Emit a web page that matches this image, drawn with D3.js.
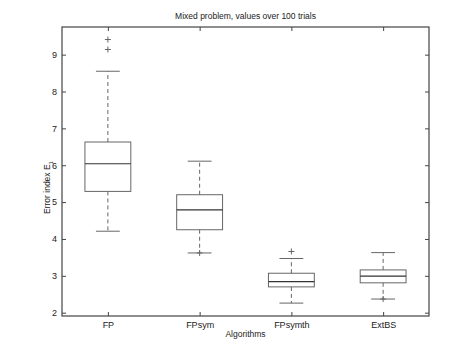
<!DOCTYPE html>
<html><head><meta charset="utf-8">
<script src="https://cdn.jsdelivr.net/npm/d3@7"></script>
<style>body{margin:0;background:#fff;} text{font-family:"Liberation Sans",Arial,sans-serif;fill:#222;}</style>
</head><body><svg id="c" width="474" height="346"></svg>
<script>
const categories = ["FP","FPsym","FPsymth","ExtBS"];
const q1 = [5.29, 4.25, 2.70, 2.81];
const median = [6.04, 4.79, 2.84, 2.99];
const q3 = [6.63, 5.20, 3.07, 3.16];
const whiskerLow = [4.21, 3.62, 2.26, 2.37];
const whiskerHigh = [8.55, 6.11, 3.47, 3.63];
const outliers = [[9.41, 9.14], [3.62], [3.66], [2.37]];
const yTicks = [2,3,4,5,6,7,8,9];

const svg = d3.select("#c");
const L=62, R=429, T=27, B=316;
const x = d3.scaleLinear().domain([0.5,4.5]).range([L,R]);
const y = d3.scaleLinear().domain([1.91,9.75]).range([B,T]);
const axisCol="#444", boxCol="#666";

svg.append("rect").attr("x",L).attr("y",T).attr("width",R-L).attr("height",B-T)
  .attr("fill","none").attr("stroke",axisCol).attr("stroke-width",1.2);

const xa = d3.axisBottom(x).tickValues([1,2,3,4]).tickFormat((d,i)=>categories[i]).tickSizeInner(-4).tickSizeOuter(0).tickPadding(6);
const gx = svg.append("g").attr("transform",`translate(0,${B})`).call(xa);
const gxt = svg.append("g").attr("transform",`translate(0,${T})`).call(d3.axisTop(x).tickValues([1,2,3,4]).tickFormat("").tickSizeInner(-4).tickSizeOuter(0));
const ya = d3.axisLeft(y).tickValues(yTicks).tickFormat(d3.format("d")).tickSizeInner(-4).tickSizeOuter(0).tickPadding(5);
const gy = svg.append("g").attr("transform",`translate(${L},0)`).call(ya);
const gyr = svg.append("g").attr("transform",`translate(${R},0)`).call(d3.axisRight(y).tickValues(yTicks).tickFormat("").tickSizeInner(-4).tickSizeOuter(0));
[gx,gxt,gy,gyr].forEach(g=>{g.select(".domain").remove(); g.selectAll("line").attr("stroke",axisCol);
  g.selectAll("text").style("font-size","9px").attr("fill","#222");});

const half = 0.25, capHalf = 0.13;
categories.forEach((c,i)=>{
  const cx = x(i+1);
  const g = svg.append("g");
  g.append("line").attr("x1",cx).attr("x2",cx).attr("y1",y(q3[i])).attr("y2",y(whiskerHigh[i]))
    .attr("stroke",boxCol).attr("stroke-dasharray","4,3");
  g.append("line").attr("x1",cx).attr("x2",cx).attr("y1",y(q1[i])).attr("y2",y(whiskerLow[i]))
    .attr("stroke",boxCol).attr("stroke-dasharray","4,3");
  [whiskerHigh[i], whiskerLow[i]].forEach(v=>{
    g.append("line").attr("x1",x(i+1-capHalf)).attr("x2",x(i+1+capHalf)).attr("y1",y(v)).attr("y2",y(v)).attr("stroke",boxCol);
  });
  g.append("rect").attr("x",x(i+1-half)).attr("width",x(i+1+half)-x(i+1-half))
    .attr("y",y(q3[i])).attr("height",y(q1[i])-y(q3[i])).attr("fill","none").attr("stroke",boxCol);
  g.append("line").attr("x1",x(i+1-half)).attr("x2",x(i+1+half)).attr("y1",y(median[i])).attr("y2",y(median[i]))
    .attr("stroke","#333").attr("stroke-width",1.2);
  outliers[i].forEach(v=>{
    const py = y(v);
    g.append("path").attr("d",`M${cx-3},${py}H${cx+3}M${cx},${py-3}V${py+3}`).attr("stroke",boxCol);
  });
});

svg.append("text").attr("x",(L+R)/2).attr("y",19).attr("text-anchor","middle").style("font-size","8.5px").text("Mixed problem, values over 100 trials");
svg.append("text").attr("x",(L+R)/2).attr("y",337).attr("text-anchor","middle").style("font-size","8.5px").text("Algorithms");
const yl = svg.append("text").attr("transform",`translate(50,${(T+B)/2+16}) rotate(-90)`).attr("text-anchor","middle").style("font-size","8.5px");
yl.append("tspan").text("Error index E");
yl.append("tspan").attr("dy",2.5).style("font-size","6px").text("1");
</script></body></html>
